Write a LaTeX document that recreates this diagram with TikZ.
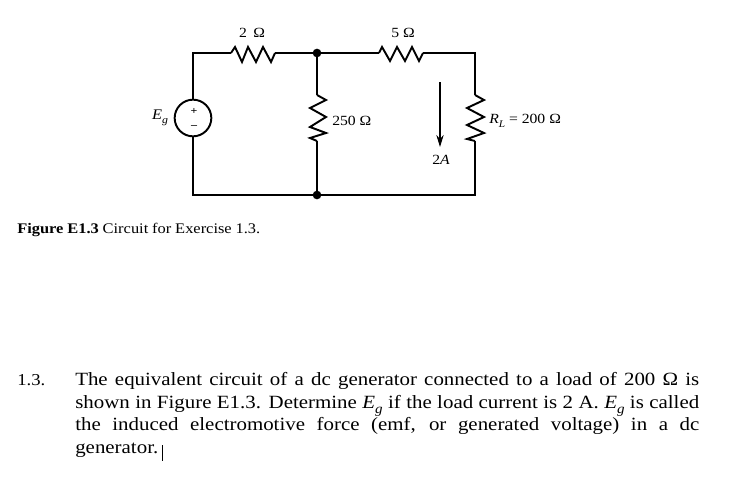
\documentclass[tikz,border=0pt]{standalone}
\usepackage{fontspec}
\setmainfont[FakeStretch=1.12]{Liberation Serif}
\usetikzlibrary{arrows.meta}
\newcommand{\lowsub}[1]{\raisebox{-0.28em}{\scalebox{0.72}{\textit{#1}}}}
\newcommand{\Eg}{\textit{E}\lowsub{g}}
\tikzset{
  wire/.style={line width=1.45pt,line join=miter},
  zig/.style={line width=1.45pt,line join=miter},
  junction/.style={circle,fill=black,inner sep=0pt,minimum size=6.5pt},
  lab/.style={inner sep=0pt,font=\fontsize{10.5}{12}\selectfont},
  body/.style={inner sep=0pt,anchor=base west,font=\fontsize{14}{16}\selectfont},
  source/.style={circle,draw,line width=1.45pt,inner sep=0pt,minimum size=27.5pt}
}
\begin{document}
\begin{tikzpicture}[x=0.75pt,y=-0.75pt]
\useasboundingbox (0,0) rectangle (755,485);
% corners and terminals
\node[source] (src) at (193,118) {};
\coordinate (tl) at (193,53);
\coordinate (bl) at (193,195);
\coordinate (tr) at (475,53);
\coordinate (br) at (475,195);
\node[junction] (jt) at (317,53) {};
\node[junction] (jb) at (317,195) {};
\coordinate (r1a) at (231,53);
\coordinate (r1b) at (275,53);
\coordinate (r2a) at (379,53);
\coordinate (r2b) at (423,53);
\coordinate (r3a) at (317,95);
\coordinate (r3b) at (317,141);
\coordinate (r4a) at (475,95);
\coordinate (r4b) at (475,141);
% wires
\draw[wire] (src.north) -- (tl) -- (r1a);
\draw[wire] (r1b) -- (jt.center) -- (r2a);
\draw[wire] (r2b) -- (tr) -- (r4a);
\draw[wire] (r4b) -- (br) -- (jb.center) -- (bl) -- (src.south);
\draw[wire] (jt.center) -- (r3a);
\draw[wire] (r3b) -- (jb.center);
% resistors
\draw[zig] (r1a) -- ++(4,-6) -- ++(7,15) -- ++(6,-15) -- ++(8,15) -- ++(7,-15) -- ++(8,15) -- (r1b);
\draw[zig] (r2a) -- ++(3,-6) -- ++(8,14) -- ++(7,-14) -- ++(8,14) -- ++(7,-14) -- ++(7,14) -- (r2b);
\draw[zig] (r3a) -- ++(9,5) -- ++(-16,8) -- ++(16,9) -- ++(-16,10) -- ++(16,6) -- ++(-16,5) -- (r3b);
\draw[zig] (r4a) -- ++(9,5) -- ++(-17,8) -- ++(17,9) -- ++(-17,8) -- ++(17,8) -- ++(-17,6) -- (r4b);
% source polarity
\node[inner sep=0pt,font=\fontsize{8}{9}\selectfont\bfseries] (plus) at (194,111) {+};
\node[inner sep=0pt,font=\fontsize{8}{9}\selectfont\bfseries] (minus) at (194,127) {--};
% current arrow
\coordinate (ia) at (440,82);
\coordinate (ib) at (440,147);
\draw[line width=0.9pt,-{Stealth[length=9pt,width=5.5pt]}] (ia) -- (ib);
% labels
\node[lab] (l1) at (252,33) {2 $\,$Ω};
\node[lab] (l2) at (403,33) {5 Ω};
\node[lab,anchor=west] (l3) at (332,121) {250 Ω};
\node[lab,anchor=west] (l4) at (489,121) {\textit{R}\lowsub{L} = 200 Ω};
\node[lab] (l5) at (441,160) {2\textit{A}};
\node[lab,font=\fontsize{11}{12}\selectfont] (l6) at (160,118) {\Eg};
% caption
\node[body,font=\fontsize{11}{14}\selectfont] (cap) at (17,233) {\makebox[182.25pt][s]{\textbf{Figure E1.3} Circuit for Exercise 1.3.}};
% exercise
\node[body,font=\fontsize{12.5}{16}\selectfont] (num) at (17,385) {1.3.};
\node[body] (t1) at (75,385) {\makebox[468pt][s]{The equivalent circuit of a dc generator connected to a load of 200 Ω is}};
\node[body] (t2) at (75,408) {\makebox[468pt][s]{shown in Figure E1.3. Determine \Eg{} if the load current is 2 A. \Eg{} is called}};
\node[body] (t3) at (75,430) {\makebox[468pt][s]{the induced electromotive force (emf, or generated voltage) in a dc}};
\node[body] (t4) at (75,453) {generator.};
\coordinate (ca) at (162,445);
\coordinate (cb) at (162,461);
\draw[line width=0.6pt] (ca) -- (cb);
\end{tikzpicture}
\end{document}
